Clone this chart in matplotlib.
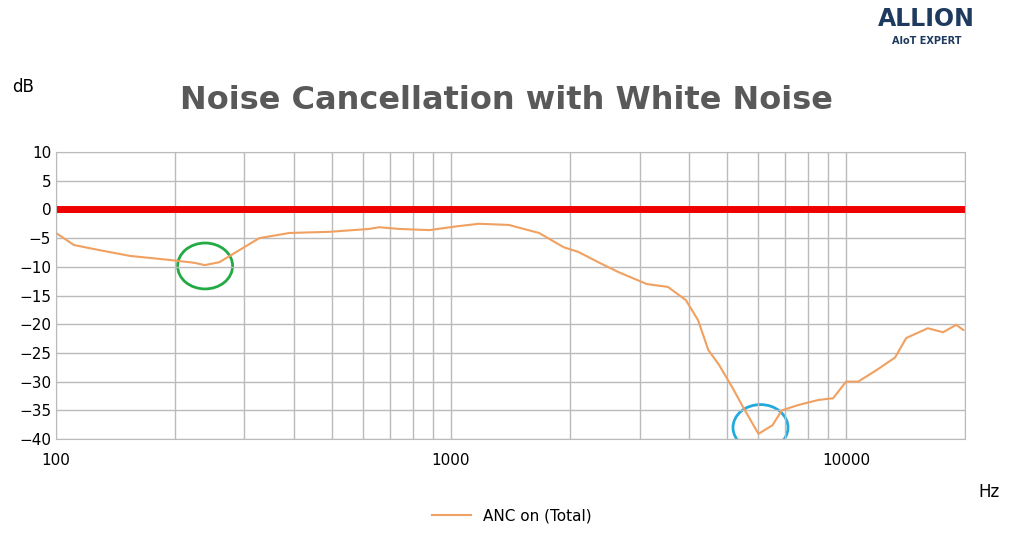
import matplotlib.pyplot as plt
from matplotlib.patches import Ellipse
from matplotlib.ticker import FixedLocator, NullFormatter

freq = [100, 111, 129, 154, 194, 224, 238, 259, 291, 327, 390, 492, 620, 657, 740, 881,
        1046, 1177, 1400, 1670, 1930, 2100, 2360, 2650, 3130, 3540, 3930, 4220, 4480, 4770,
        5200, 5450, 6000, 6510, 6880, 7550, 8500, 9270, 10000, 10730, 12000, 13300, 14200,
        16100, 17600, 19000, 19800]
anc = [-4.1, -6.2, -7.1, -8.1, -8.8, -9.3, -9.7, -9.2, -7.1, -5.0, -4.1, -3.9, -3.4, -3.1,
       -3.4, -3.6, -2.9, -2.5, -2.7, -4.1, -6.6, -7.4, -9.2, -10.9, -13.0, -13.5, -15.8,
       -19.3, -24.5, -27.1, -31.5, -34.1, -39.1, -37.6, -35.0, -34.1, -33.2, -32.9, -30.0,
       -30.0, -27.9, -25.8, -22.4, -20.7, -21.4, -20.1, -21.0]

fig = plt.figure(figsize=(10.24, 5.43), dpi=100)
ax = fig.add_axes([0.0547, 0.1915, 0.8877, 0.5285])
ax.plot(freq, anc, color='#f0a060', lw=1.5, label='ANC on (Total)')
ax.axhline(0, color='#ee0000', lw=5)
ax.set_xscale('log')
ax.set_xlim(100, 20000)
ax.set_ylim(-40, 10)
ax.set_yticks(range(-40, 11, 5))
ax.xaxis.set_major_locator(FixedLocator([100, 1000, 10000]))
ax.xaxis.set_minor_formatter(NullFormatter())
ax.set_xticklabels(['100', '1000', '10000'])
ax.grid(True, which='both', axis='x', color='#bbbbbb', lw=1)
ax.grid(True, axis='y', color='#bbbbbb', lw=1)
ax.tick_params(which='both', length=0, labelsize=11)
ax.tick_params(axis='x', pad=10)
for s in ax.spines.values():
    s.set_color('#bbbbbb')

ax.add_patch(Ellipse((0.164, 0.603), 0.0605, 0.16, transform=ax.transAxes,
                     fill=False, ec='#22aa44', lw=2))
ax.add_patch(Ellipse((0.775, 0.04), 0.0605, 0.16, transform=ax.transAxes,
                     fill=False, ec='#22aadd', lw=2))

fig.text(0.495, 0.815, 'Noise Cancellation with White Noise', ha='center', va='center',
         fontsize=23, fontweight='bold', color='#595959')
fig.text(0.012, 0.83, 'dB', fontsize=12)
fig.text(0.955, 0.085, 'Hz', fontsize=12)
fig.text(0.905, 0.965, 'ALLION', ha='center', va='center', fontsize=17,
         fontweight='bold', color='#1f3a5f')
fig.text(0.905, 0.925, 'AIoT EXPERT', ha='center', va='center', fontsize=7,
         fontweight='bold', color='#1f3a5f')
fig.legend(loc='center', bbox_to_anchor=(0.5, 0.05), frameon=False, fontsize=11,
           handlelength=2.5)
fig.savefig('out.png')
